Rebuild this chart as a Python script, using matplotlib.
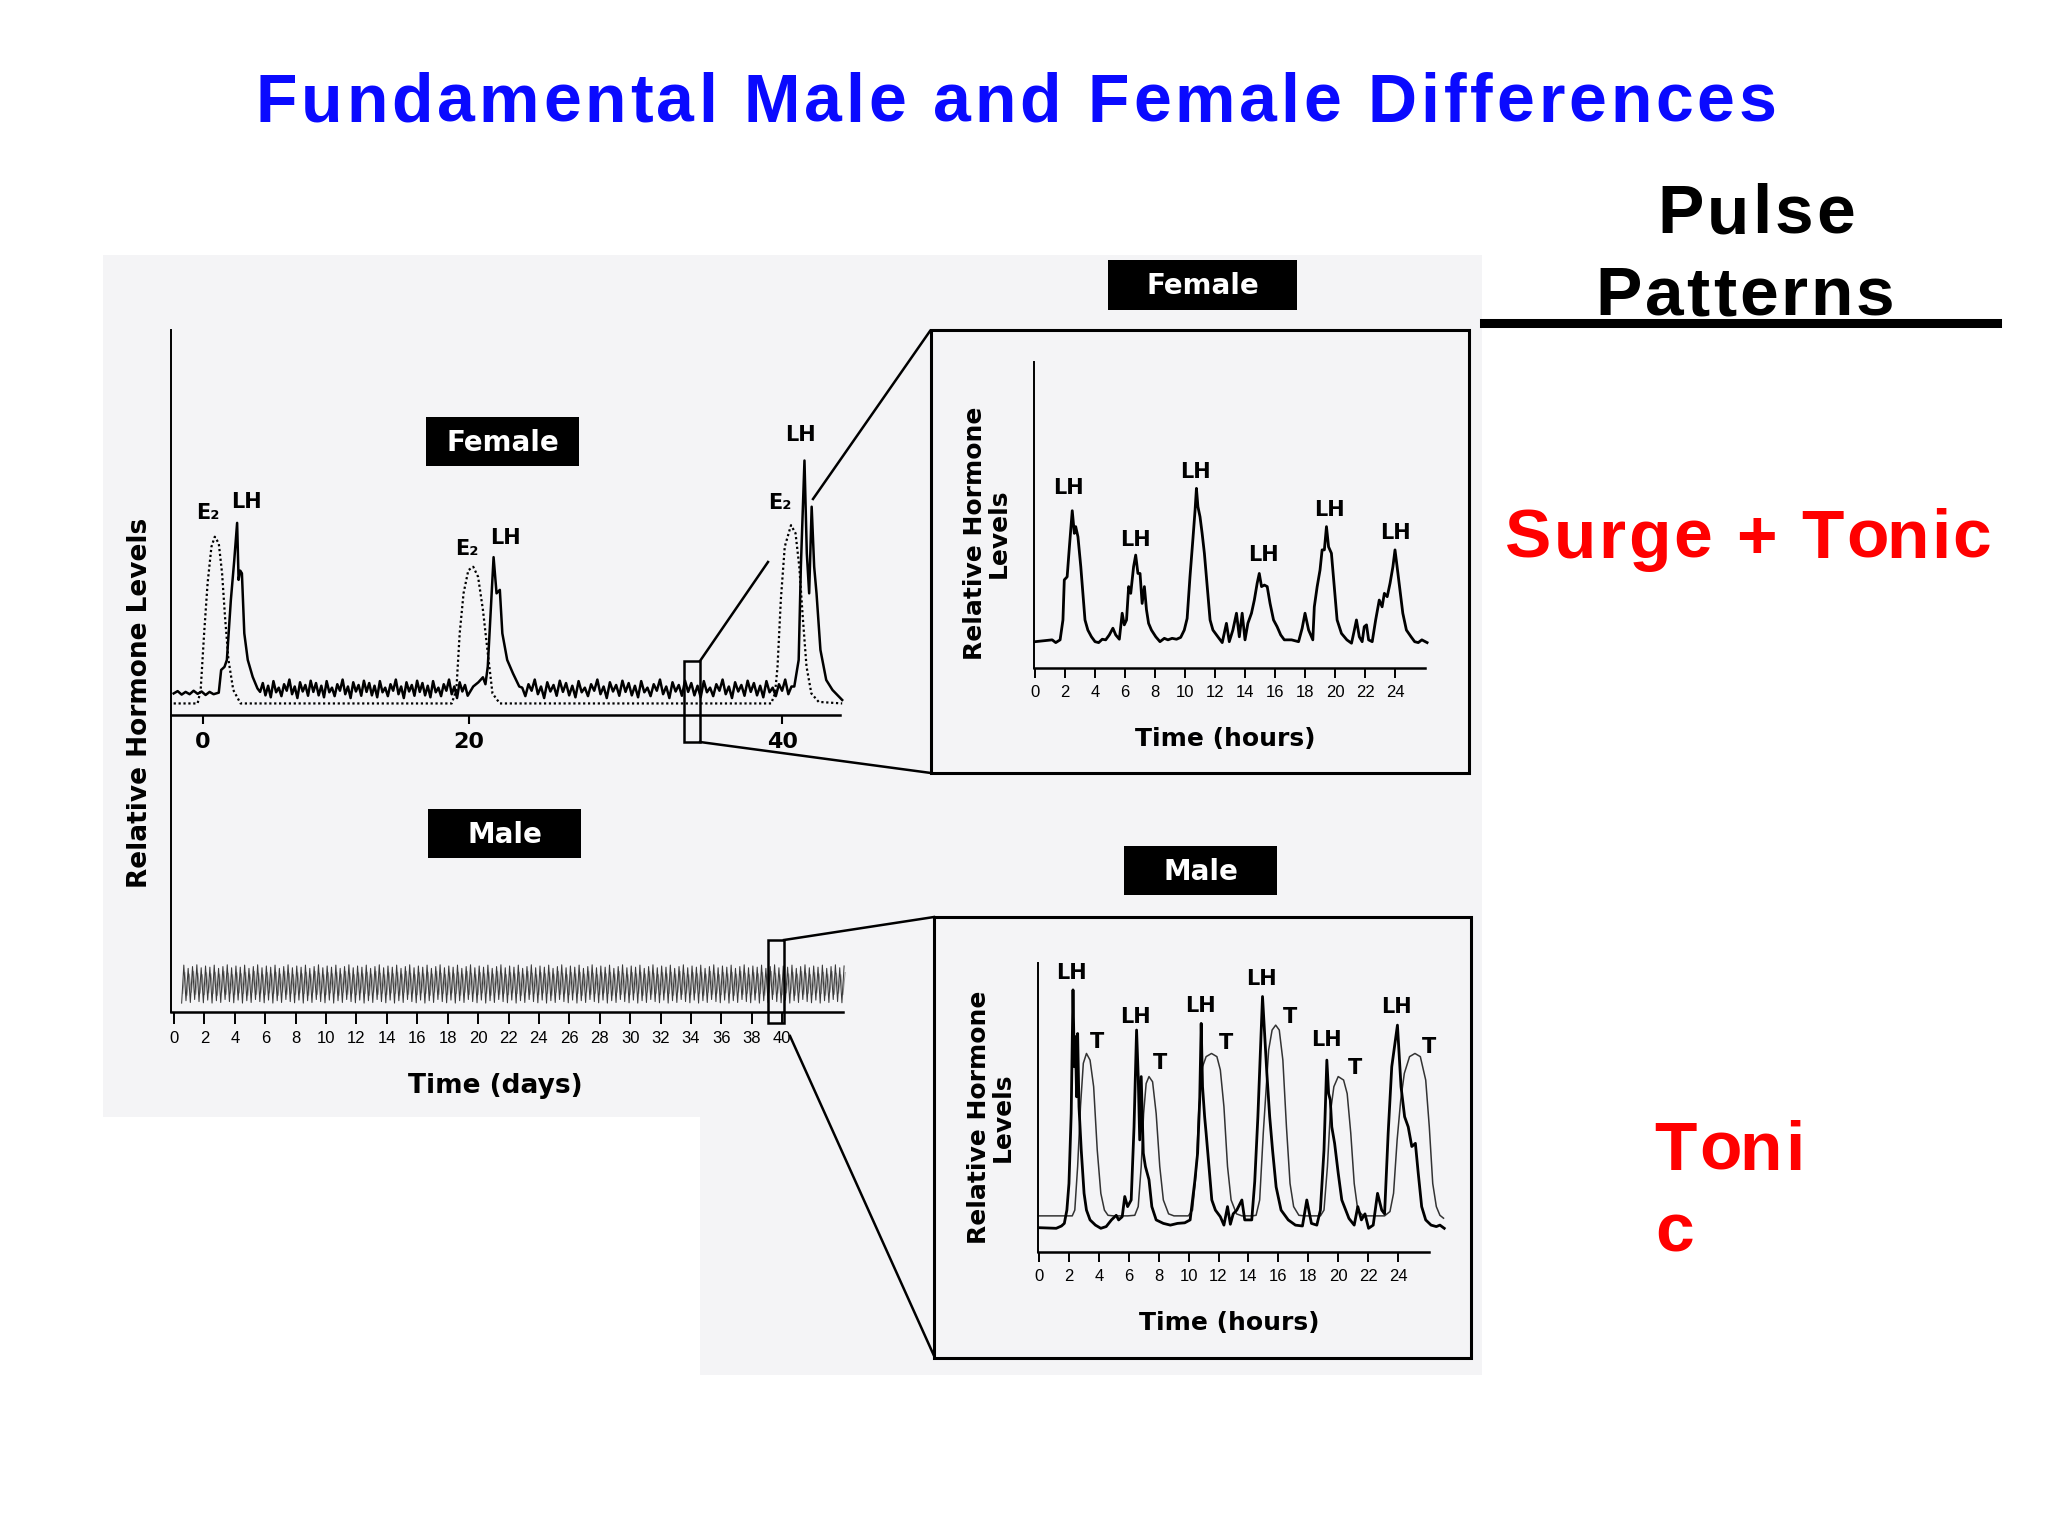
import numpy as np
import matplotlib
matplotlib.use("Agg")
from matplotlib import pyplot as plt
from matplotlib.patches import Rectangle
from matplotlib.lines import Line2D
from matplotlib.font_manager import FontProperties

W, H = 2048, 1536

# ---------------- data ----------------
# female, 40+ day overview: LH (solid) and E2 (dotted), relative levels 0-100
pre_days = [-2.2, -1.9, -1.6, -1.3, -1.0, -0.7, -0.4, -0.1, 0.2, 0.5, 0.8, 1.19]
pre_lh = [5.6, 6.2, 5.3, 6.0, 5.4, 6.3, 5.5, 6.1, 5.2, 6.0, 5.4, 5.8]
surge1_days = [1.37, 1.62, 1.80, 2.10, 2.35, 2.57, 2.68, 2.80, 2.93, 3.11, 3.37, 3.74, 4.10]
surge1_lh = [11.7, 12.5, 14.3, 29.9, 40.0, 49.9, 35.1, 37.5, 36.8, 21.2, 14.3, 9.9, 6.9]
surge2_days = [20.27, 20.6, 20.89, 21.05, 21.2, 21.57, 21.76, 21.97, 22.13, 22.44, 22.81, 23.21]
surge2_lh = [7.4, 8.5, 9.8, 8.0, 12.6, 41.0, 31.6, 32.5, 21.2, 14.3, 10.8, 7.4]
surge3_days = [40.78, 41.06, 41.2, 41.43, 41.58, 41.73, 41.89, 42.05, 42.2, 42.45, 42.82, 43.22, 43.53, 43.84]
surge3_lh = [7.4, 14.3, 38.5, 66.1, 42.0, 31.6, 54.1, 38.5, 31.6, 16.9, 9.1, 6.5, 5.2, 3.9]
# jagged tonic LH between surges (one stretch, repeated)
tonic_wiggle = [6.0, 8.3, 5.1, 7.6, 4.6, 8.8, 5.9, 7.1, 4.9, 8.0,
                6.3, 9.2, 5.4, 7.4, 4.4, 8.5, 6.1, 7.8, 5.0, 8.9]

e2_days = [-2.2, -0.4, -0.17, 0.09, 0.35, 0.64, 0.89, 1.19, 1.44, 1.66, 1.92, 2.28, 2.83,
           18.7, 19.05, 19.3, 19.59, 19.95, 20.27, 20.58, 20.89, 21.2, 21.5, 21.97,
           39.3, 39.55, 39.71, 39.92, 40.17, 40.57, 40.86, 41.1, 41.32, 41.56, 41.87, 42.34, 43.84]
e2_level = [3.0, 3.0, 6.5, 21.2, 34.2, 43.7, 46.3, 44.6, 36.8, 25.5, 14.3, 6.5, 3.0,
            3.0, 6.5, 21.2, 31.6, 37.6, 38.5, 35.9, 27.3, 16.1, 5.6, 3.0,
            3.0, 5.6, 12.6, 29.9, 43.7, 49.3, 47.2, 38.5, 25.5, 12.6, 5.6, 3.4, 3.0]

# male, 40+ day overview: LH / T pulses (3.5 a day), repeated
male_lh_cycle = [3.0, 15.8, 3.8, 14.7, 3.2, 15.3, 4.2, 15.9, 3.5, 14.9, 3.1, 15.5, 4.0, 15.1]
male_t_cycle = [6.2, 13.4, 5.6, 12.8, 6.6, 13.7, 5.9, 13.1, 6.3, 12.6, 5.8, 13.3, 6.4, 12.9]

# female, 24 h inset: LH
fem_hours = [0, 1.14, 1.38, 1.67, 1.86, 1.95, 2.14, 2.29, 2.48, 2.62, 2.71, 2.86, 3.05, 3.19, 3.33,
             3.52, 3.76, 4.0, 4.24, 4.48, 4.71, 4.95, 5.19, 5.38, 5.62, 5.81, 5.95, 6.10, 6.24,
             6.38, 6.57, 6.71, 6.86, 7.0, 7.14, 7.29, 7.43, 7.57, 7.76, 8.05, 8.33, 8.62, 8.86,
             9.14, 9.43, 9.71, 9.95, 10.14, 10.33, 10.52, 10.67, 10.76, 10.86, 11.0, 11.14, 11.29,
             11.48, 11.67, 11.86, 12.19, 12.48, 12.76, 12.95, 13.19, 13.43, 13.62, 13.81, 14.0,
             14.19, 14.43, 14.62, 14.81, 14.95, 15.1, 15.29, 15.48, 15.67, 15.9, 16.14, 16.38,
             16.62, 17.1, 17.57, 17.81, 18.0, 18.24, 18.52, 18.62, 18.81, 19.0, 19.14, 19.29,
             19.43, 19.57, 19.76, 19.95, 20.14, 20.43, 20.79, 21.1, 21.29, 21.43, 21.62, 21.81,
             21.95, 22.1, 22.24, 22.48, 22.71, 22.95, 23.14, 23.29, 23.48, 23.67, 23.86, 24.0,
             24.14, 24.33, 24.52, 24.76, 25.07, 25.31, 25.55, 25.79, 26.14]
fem_lh = [8.6, 9.2, 8.3, 9.2, 15.7, 28.8, 29.8, 39.6, 51.4, 44.0, 46.2, 42.9, 33.1, 24.4, 15.7,
          12.4, 10.2, 8.6, 8.3, 9.4, 9.2, 10.8, 13.0, 10.8, 9.4, 17.9, 14.1, 15.7, 26.6,
          24.4, 33.1, 36.9, 30.9, 30.9, 21.1, 26.6, 19.0, 14.6, 12.4, 10.2, 8.6, 9.7, 9.2,
          9.7, 9.4, 10.0, 12.4, 16.2, 29.8, 41.8, 51.6, 58.7, 52.7, 49.4, 44.0, 37.5,
          26.6, 15.7, 12.4, 10.2, 8.3, 14.6, 8.6, 12.4, 17.9, 10.2, 17.9, 9.2,
          14.6, 17.9, 22.2, 27.7, 30.9, 26.6, 27.1, 26.6, 21.1, 15.7, 13.5, 10.8,
          9.2, 9.2, 8.6, 13.0, 17.9, 12.4, 9.2, 20.0, 26.6, 32.0, 38.6, 38.6,
          46.2, 39.6, 37.5, 26.6, 15.7, 11.3, 9.2, 8.1, 12.4, 15.7, 10.2, 8.6,
          13.5, 14.1, 9.2, 8.6, 15.7, 22.2, 20.0, 24.4, 23.3, 27.7, 33.1, 38.6,
          33.1, 25.5, 17.9, 12.4, 10.2, 8.6, 8.3, 9.2, 8.3]
fem_lh_labels = [(2.2, 58.7), (6.7, 41.8), (10.7, 64.2), (15.2, 36.9), (19.6, 51.6), (24.0, 44.0)]

# male, 24 h inset: LH (heavy) and testosterone (thin)
male_lh_hours = [0.07, 1.15, 1.50, 1.69, 1.86, 2.0, 2.15, 2.27, 2.36, 2.43, 2.51, 2.58, 2.67, 2.82,
                 3.01, 3.17, 3.41, 3.77, 4.13, 4.49, 4.84, 5.16, 5.32, 5.56, 5.73, 5.92, 6.16,
                 6.35, 6.52, 6.63, 6.73, 6.83, 6.97, 7.11, 7.23, 7.35, 7.54, 7.83, 8.31, 8.78,
                 9.26, 9.74, 10.1, 10.26, 10.41, 10.6, 10.74, 10.84, 10.93, 11.07, 11.17, 11.36,
                 11.55, 11.79, 12.12, 12.36, 12.6, 12.79, 12.98, 13.22, 13.56, 13.75, 13.99,
                 14.22, 14.42, 14.63, 14.94, 15.23, 15.42, 15.61, 15.85, 16.18, 16.66, 17.14,
                 17.61, 17.9, 18.21, 18.57, 18.81, 19.05, 19.24, 19.36, 19.47, 19.57, 19.76,
                 20.0, 20.24, 20.72, 21.07, 21.31, 21.55, 21.79, 22.03, 22.34, 22.63, 22.91,
                 23.1, 23.34, 23.58, 23.96, 24.2, 24.44, 24.68, 24.92, 25.16, 25.35, 25.58,
                 25.85, 26.21, 26.56, 26.8, 27.09]
male_lh = [8.4, 8.2, 9.0, 9.9, 14.5, 23.7, 47.9, 90.7, 64.1, 74.5, 53.7, 75.6, 50.3, 35.3,
           20.3, 14.5, 11.1, 9.3, 8.2, 8.8, 11.1, 12.7, 11.1, 12.2, 19.2, 15.7, 18.0,
           43.3, 76.8, 60.7, 38.8, 60.7, 34.2, 29.6, 27.3, 25.0, 15.7, 11.1, 9.9, 9.3,
           9.9, 10.1, 11.1, 18.0, 24.4, 34.2, 52.6, 79.1, 57.2, 46.8, 41.1, 29.6,
           18.0, 14.5, 12.2, 9.3, 15.7, 9.6, 13.2, 14.5, 18.0, 11.1, 11.1,
           11.1, 24.4, 46.8, 88.4, 61.8, 46.8, 35.3, 22.5, 14.5, 11.1, 9.3,
           9.0, 18.0, 9.9, 9.3, 14.5, 35.3, 66.4, 54.8, 52.6, 43.3, 37.6,
           27.3, 18.0, 11.6, 9.3, 15.7, 11.1, 13.2, 8.2, 9.3, 20.3, 14.5,
           13.2, 41.1, 64.1, 78.5, 57.2, 46.8, 43.3, 36.5, 37.6, 27.3, 15.7,
           11.1, 9.3, 8.8, 9.3, 8.2]
male_t_hours = [-0.05, 2.22, 2.39, 2.58, 2.77, 2.96, 3.17, 3.41, 3.65, 3.89, 4.13, 4.37, 4.61, 4.96,
                5.92, 6.40, 6.63, 6.83, 6.99, 7.16, 7.35, 7.59, 7.83, 8.07, 8.31, 8.66, 9.02,
                9.98, 10.26, 10.5, 10.69, 10.93, 11.17, 11.53, 11.89, 12.12, 12.36, 12.6, 12.84, 13.2, 13.56,
                14.27, 14.51, 14.75, 14.99, 15.35, 15.58, 15.82, 16.06, 16.3, 16.54, 16.78, 17.02, 17.37, 17.73,
                18.81, 19.05, 19.28, 19.47, 19.71, 20.0, 20.36, 20.6, 20.84, 21.07, 21.31, 21.67,
                23.1, 23.46, 23.7, 23.94, 24.18, 24.42, 24.77, 25.13, 25.49, 25.85, 26.09, 26.32, 26.56, 26.8, 27.04]
male_t = [12.5, 12.5, 14.5, 29.6, 50.3, 65.3, 68.7, 66.4, 57.2, 35.3, 20.3, 14.5, 12.7, 12.5,
          12.5, 12.7, 15.7, 29.6, 47.9, 58.3, 60.7, 58.9, 47.9, 29.6, 18.0, 13.2, 12.5,
          12.5, 14.5, 27.3, 50.3, 64.1, 67.6, 68.7, 67.6, 63.0, 50.3, 29.6, 18.0, 13.2, 12.5,
          12.5, 12.7, 18.0, 41.1, 69.9, 76.8, 78.5, 76.8, 66.4, 43.3, 23.7, 15.7, 12.7, 12.5,
          12.5, 14.5, 29.6, 47.9, 57.2, 60.7, 59.5, 54.8, 41.1, 23.7, 14.5, 12.5,
          12.5, 14.0, 20.3, 38.8, 52.6, 61.8, 67.6, 68.7, 67.6, 59.5, 43.3, 23.7, 15.7, 12.7, 11.7]
male_labels = [("LH", 2.15, 96.4), ("T", 3.9, 72.8), ("LH", 6.47, 81.3), ("T", 8.1, 65.3),
               ("LH", 10.8, 85.0), ("T", 12.5, 72.4), ("LH", 14.9, 94.4), ("T", 16.8, 81.4),
               ("LH", 19.2, 73.4), ("T", 21.1, 63.6), ("LH", 23.9, 84.7), ("T", 26.1, 70.8)]

title = "Fundamental Male and Female Differences"

# -------------- assemble series --------------
noise1_days = np.arange(4.3, 20.1, 0.2)
noise2_days = np.arange(23.4, 40.7, 0.2)
lh_days = np.concatenate([pre_days, surge1_days, noise1_days, surge2_days, noise2_days, surge3_days])
lh_level = np.concatenate([pre_lh, surge1_lh, np.resize(tonic_wiggle, len(noise1_days)), surge2_lh,
                           np.resize(tonic_wiggle[7:] + tonic_wiggle[:7], len(noise2_days)), surge3_lh])

male_days = np.arange(0.5, 44.1, 1 / 7)
male_lh_all = np.resize(male_lh_cycle, len(male_days))
male_t_all = np.resize(male_t_cycle, len(male_days))


def rect(x0, y0, x1, y1):
    return [x0 / W, 1 - y1 / H, (x1 - x0) / W, (y1 - y0) / H]


def fx(x):
    return x / W


def fy(y):
    return 1 - y / H


fig = plt.figure(figsize=(W / 100, H / 100), dpi=100)
fig.patch.set_facecolor("white")
renderer = fig.canvas.get_renderer()

FIGF = ["DejaVu Sans"]
SLIDEF = ["Liberation Sans", "DejaVu Sans"]


def text_w(s, fp):
    return renderer.get_text_width_height_descent(s, fp, ismath=False)[0]


def spaced_text(x, y, s, fp, gap, color, ha="center"):
    bar = text_w("|", fp)
    offs = [0.0] + [text_w(s[:i] + "|", fp) - bar for i in range(1, len(s))]
    total = text_w(s, fp) + gap * (len(s) - 1)
    x0 = x - total / 2 if ha == "center" else x
    for i, ch in enumerate(s):
        if ch == " ":
            continue
        fig.text(fx(x0 + offs[i] + gap * i), fy(y), ch, fontproperties=fp, color=color,
                 ha="left", va="baseline")


def line(x0, y0, x1, y1, lw=1.8):
    fig.add_artist(Line2D([fx(x0), fx(x1)], [fy(y0), fy(y1)], color="black", lw=lw,
                          transform=fig.transFigure))


def box(x0, y0, x1, y1, lw=1.8, fc="none", z=1):
    fig.add_artist(Rectangle((fx(x0), fy(y1)), (x1 - x0) / W, (y1 - y0) / H, transform=fig.transFigure,
                             facecolor=fc, edgecolor="black" if fc == "none" else fc, lw=lw, zorder=z))


def tag(x0, y0, x1, y1, s):
    box(x0, y0, x1, y1, lw=0, fc="black")
    fig.text(fx((x0 + x1) / 2), fy((y0 + y1) / 2 + 9.5), s, color="white", family=FIGF,
             weight="bold", fontsize=20, ha="center", va="baseline")


def style(ax):
    ax.patch.set_visible(False)
    for s in ("top", "right"):
        ax.spines[s].set_visible(False)
    ax.spines["left"].set_linewidth(1.4)
    ax.spines["bottom"].set_linewidth(1.8)
    ax.set_yticks([])
    ax.set_ylim(0, 100)


# scanned figure background (fades out at the lower left)
box(103, 255, 1482, 1117, lw=0, fc="#f4f4f6", z=-5)
box(700, 1117, 1482, 1375, lw=0, fc="#f4f4f6", z=-5)

# ---- female overview (tick spacing of the drawing is uneven) ----
knots_d = [-10, 0, 20, 40, 60]
knots_p = [-133, 0, 266, 579, 892]


def fwd(d):
    return np.interp(d, knots_d, knots_p)


def inv(p):
    return np.interp(p, knots_p, knots_d)


ax_f = fig.add_axes(rect(171, 330, 840, 715))
style(ax_f)
ax_f.set_xscale("function", functions=(fwd, inv))
ax_f.set_xlim(-2.4, 43.7)
ax_f.plot(e2_days, e2_level, color="black", lw=1.6, ls=(0, (1, 1.2)), clip_on=False)
ax_f.plot(lh_days, lh_level, color="black", lw=1.8, clip_on=False)
ax_f.set_xticks([0, 20, 40])
ax_f.tick_params(axis="x", direction="out", length=6.5, width=1.5, pad=6, labelsize=16)
for t in ax_f.get_xticklabels():
    t.set_fontweight("bold")
for s, d, v in [("E₂", 0.38, 52.5), ("LH", 3.3, 55.3), ("E₂", 19.85, 43.1),
                ("LH", 22.3, 46.0), ("E₂", 39.87, 55.1), ("LH", 41.2, 72.7)]:
    ax_f.text(d, v, s, fontsize=15, weight="bold", ha="center", va="center", family=FIGF)

# ---- male overview ----
ax_m = fig.add_axes(rect(171, 715, 843, 1012))
style(ax_m)
ax_m.set_xlim(-0.2, 44.0)
ax_m.plot(male_days + 1 / 14, male_t_all, color="#9a9a9a", lw=0.7, clip_on=False)
ax_m.plot(male_days, male_lh_all, color="#3a3a3a", lw=0.75, clip_on=False)
ax_m.set_xticks(np.arange(0, 41, 2))
ax_m.tick_params(axis="x", direction="out", length=8.5, width=1.4, pad=5, labelsize=12)
for t in ax_m.get_xticklabels():
    t.set_family(SLIDEF)

fig.text(fx(140), fy(703), "Relative Hormone Levels", rotation=90, fontsize=19, weight="bold",
         family=FIGF, ha="center", va="center")
fig.text(fx(495), fy(1086), "Time (days)", fontsize=19, weight="bold", family=FIGF,
         ha="center", va="center")

tag(426, 417, 579, 466, "Female")
tag(428, 809, 581, 858, "Male")

# zoom markers and connectors
box(684, 661, 700, 742)
line(700, 661, 768, 562)
line(813, 499, 930, 331)
line(700, 742, 931, 773)
box(768, 940, 784, 1023)
line(784, 940, 934, 917)
line(790, 1036, 935, 1358)

# ---- insets ----
box(931, 330, 1469, 773, lw=2.2)
box(934, 917, 1471, 1358, lw=2.2)
tag(1108, 260, 1297, 310, "Female")
tag(1124, 846, 1277, 895, "Male")


def inset(r, xlo, xhi):
    ax = fig.add_axes(r)
    style(ax)
    ax.set_xlim(xlo, xhi)
    ax.set_xticks(np.arange(0, 25, 2))
    ax.tick_params(axis="x", direction="out", length=7, width=1.4, pad=5, labelsize=12)
    for t in ax.get_xticklabels():
        t.set_family(SLIDEF)
    return ax


ax_fi = inset(rect(1034, 362, 1425, 668), -0.07, 26.0)
ax_fi.plot(fem_hours, fem_lh, color="black", lw=2.0, clip_on=False)
for h, v in fem_lh_labels:
    ax_fi.text(h, v, "LH", fontsize=15, weight="bold", ha="center", va="center", family=FIGF)
fig.text(fx(987), fy(533), "Relative Hormone\nLevels", rotation=90, fontsize=18, weight="bold",
         family=FIGF, ha="center", va="center", linespacing=1.0)
fig.text(fx(1225), fy(739), "Time (hours)", fontsize=18, weight="bold", family=FIGF,
         ha="center", va="center")

ax_mi = inset(rect(1038, 963, 1429, 1252), -0.07, 26.07)
ax_mi.plot(male_t_hours, male_t, color="#333333", lw=1.1, clip_on=False)
ax_mi.plot(male_lh_hours, male_lh, color="black", lw=2.0, clip_on=False)
for s, h, v in male_labels:
    ax_mi.text(h, v, s, fontsize=15, weight="bold", ha="center", va="center", family=FIGF)
fig.text(fx(991), fy(1117), "Relative Hormone\nLevels", rotation=90, fontsize=18, weight="bold",
         family=FIGF, ha="center", va="center", linespacing=1.0)
fig.text(fx(1229), fy(1323), "Time (hours)", fontsize=18, weight="bold", family=FIGF,
         ha="center", va="center")

# ---- slide text ----
spaced_text(1016, 122, title, FontProperties(family=SLIDEF, weight="bold", size=49), 3.8, "#0a0aff")
big = FontProperties(family=SLIDEF, weight="bold", size=50)
spaced_text(1756, 233, "Pulse", big, 3, "black")
spaced_text(1745, 315, "Patterns", big, 3, "black")
line(1484, 323, 1997, 323, lw=6.5)
spaced_text(1748, 558, "Surge + Tonic", big, 2.5, "#ff0000")
spaced_text(1654, 1170, "Toni", big, 3, "#ff0000", ha="left")
spaced_text(1655, 1252, "c", big, 3, "#ff0000", ha="left")

fig.savefig("out.png", dpi=100, facecolor="white")
